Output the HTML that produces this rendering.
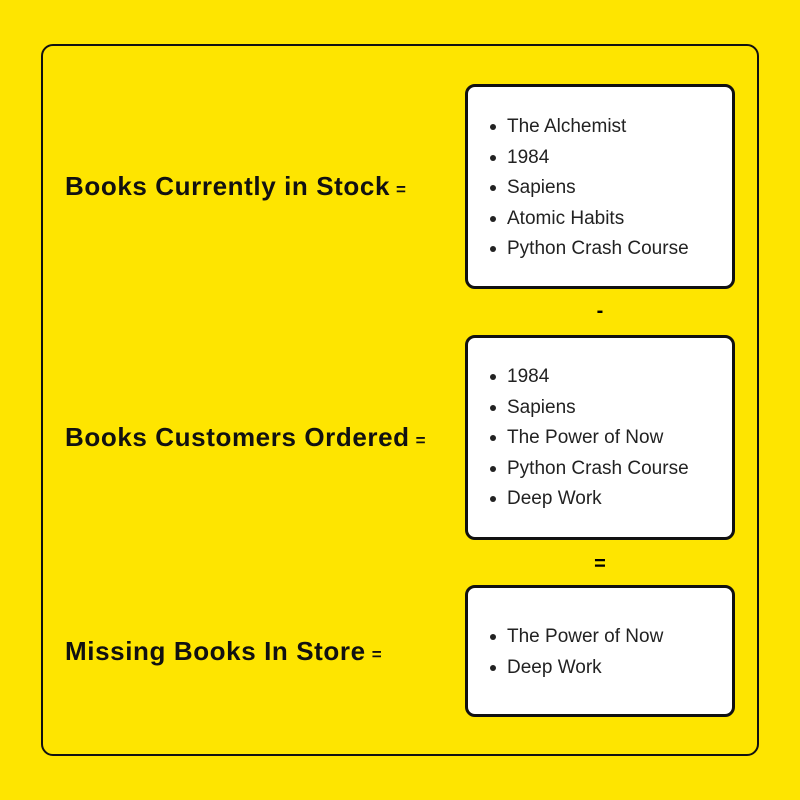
<!DOCTYPE html>
<html><head><style>
body{margin:0;width:800px;height:800px;background:#FEE500;position:relative;overflow:hidden;font-family:"Liberation Sans",sans-serif;}
.outer{position:absolute;left:41px;top:44px;width:714px;height:708px;border:2px solid #111;border-radius:12px;}
.box{position:absolute;left:465px;width:264px;background:#fff;border:3px solid #111;border-radius:10px;}
.box ul{margin:0;padding:0;list-style:none;position:absolute;left:20px;top:0;}
.box li{font-size:19px;line-height:30.5px;color:#222;position:relative;padding-left:19px;white-space:nowrap;}
.box li:before{content:"";position:absolute;left:2px;top:12px;width:6px;height:6px;border-radius:50%;background:#222;}
.lab{position:absolute;left:65px;font-weight:bold;font-size:26px;letter-spacing:0.6px;color:#111;white-space:nowrap;}
.lab span{font-size:17px;margin-left:6px;}
.op{position:absolute;left:590px;font-size:20px;font-weight:bold;width:20px;text-align:center;}
</style></head><body>
<div class="outer"></div>
<div class="box" style="top:84px;height:199px;"><ul style="top:25px"><li>The Alchemist</li><li>1984</li><li>Sapiens</li><li>Atomic Habits</li><li>Python Crash Course</li></ul></div>
<div class="box" style="top:335px;height:199px;"><ul style="top:24px"><li>1984</li><li>Sapiens</li><li>The Power of Now</li><li>Python Crash Course</li><li>Deep Work</li></ul></div>
<div class="box" style="top:585px;height:126px;"><ul style="top:34px"><li>The Power of Now</li><li>Deep Work</li></ul></div>
<div class="lab" style="top:171px">Books Currently in Stock<span>=</span></div>
<div class="lab" style="top:422px">Books Customers Ordered<span>=</span></div>
<div class="lab" style="top:636px">Missing Books In Store<span>=</span></div>
<div class="op" style="top:300px">-</div>
<div class="op" style="top:553px">=</div>
</body></html>
